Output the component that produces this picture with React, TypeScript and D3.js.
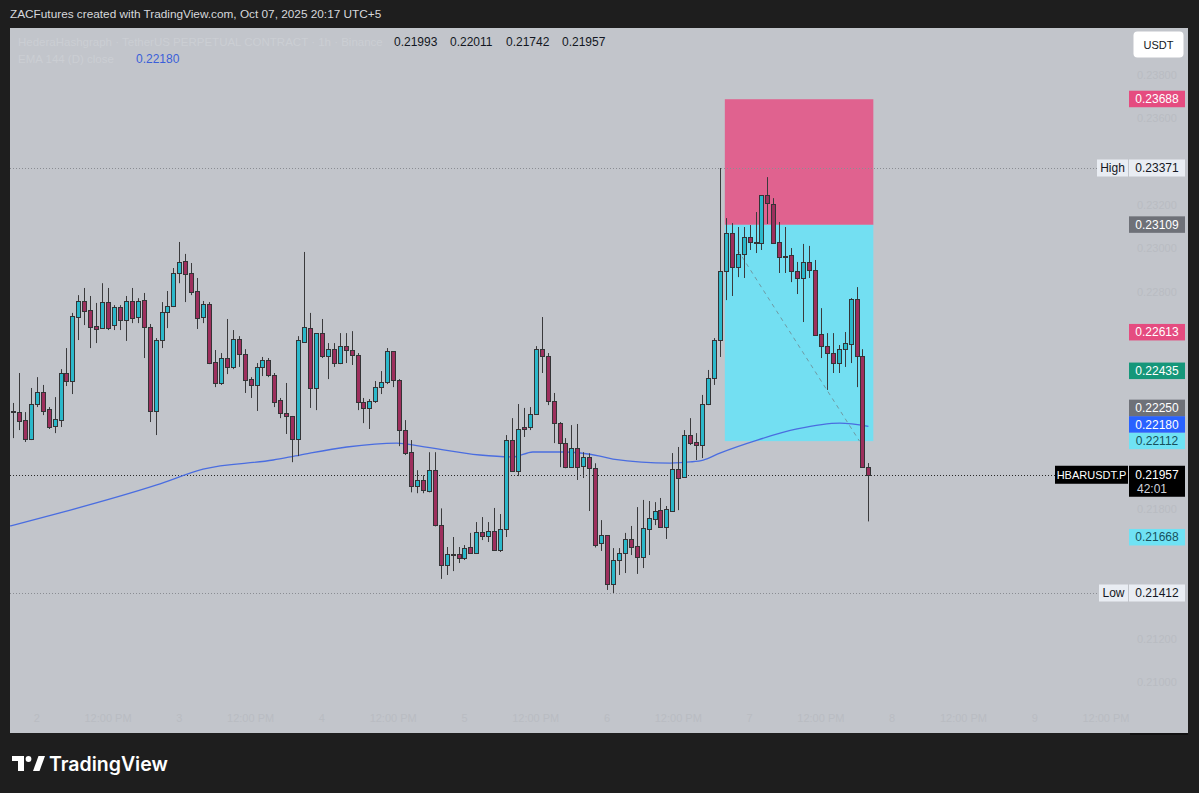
import React from "react";
import * as d3 from "d3";

// ---------- DATA ----------
const opens = [0.22251,0.22246,0.22209,0.22122,0.22283,0.22338,0.22260,0.22182,0.22209,0.22426,0.22389,0.22684,0.22758,0.22716,0.22642,0.22633,0.22753,0.22647,0.22730,0.22670,0.22758,0.22684,0.22762,0.22638,0.22251,0.22578,0.22707,0.22735,0.22887,0.22942,0.22887,0.22804,0.22684,0.22744,0.22477,0.22380,0.22495,0.22454,0.22583,0.22513,0.22398,0.22371,0.22454,0.22486,0.22417,0.22302,0.22241,0.22228,0.22122,0.22569,0.22633,0.22357,0.22610,0.22504,0.22536,0.22472,0.22550,0.22532,0.22509,0.22292,0.22265,0.22297,0.22361,0.22384,0.22527,0.22394,0.22163,0.22061,0.21904,0.21932,0.21882,0.21978,0.21724,0.21541,0.21592,0.21592,0.21573,0.21624,0.21596,0.21693,0.21675,0.21698,0.21610,0.21707,0.22117,0.21974,0.22177,0.22177,0.22237,0.22536,0.22504,0.22297,0.22195,0.22103,0.21992,0.22080,0.21996,0.22038,0.21987,0.21642,0.21679,0.21453,0.21564,0.21596,0.21661,0.21629,0.21578,0.21707,0.21753,0.21794,0.21716,0.21790,0.21983,0.21946,0.22140,0.22108,0.22094,0.22283,0.22403,0.22578,0.22896,0.23071,0.22914,0.22974,0.23053,0.23030,0.23025,0.23246,0.23205,0.23030,0.22965,0.22970,0.22896,0.22864,0.22938,0.22901,0.22606,0.22550,0.22518,0.22472,0.22536,0.22559,0.22767,0.22504,0.21993];
const highs = [0.22288,0.22426,0.22246,0.22357,0.22407,0.22371,0.22269,0.22315,0.22444,0.22541,0.22703,0.22785,0.22818,0.22781,0.22749,0.22840,0.22818,0.22739,0.22739,0.22781,0.22818,0.22771,0.22795,0.22652,0.22587,0.22753,0.22804,0.22910,0.23030,0.22975,0.22933,0.22864,0.22758,0.22753,0.22532,0.22518,0.22675,0.22624,0.22596,0.22536,0.22407,0.22472,0.22500,0.22495,0.22426,0.22311,0.22380,0.22228,0.22596,0.22984,0.22703,0.22610,0.22675,0.22564,0.22564,0.22610,0.22610,0.22619,0.22518,0.22311,0.22306,0.22389,0.22435,0.22541,0.22527,0.22398,0.22209,0.22117,0.21978,0.21955,0.22061,0.22061,0.21802,0.21624,0.21670,0.21624,0.21633,0.21689,0.21739,0.21762,0.21739,0.21804,0.21776,0.22140,0.22218,0.22283,0.22265,0.22269,0.22550,0.22684,0.22518,0.22334,0.22200,0.22126,0.22186,0.22191,0.22061,0.22056,0.22010,0.21748,0.21679,0.21619,0.21619,0.21689,0.21721,0.21808,0.21841,0.21836,0.21831,0.21850,0.21813,0.22057,0.22085,0.22163,0.22218,0.22149,0.22325,0.22440,0.22587,0.23371,0.23140,0.23117,0.23099,0.23099,0.23108,0.23168,0.23246,0.23329,0.23232,0.23122,0.23099,0.23002,0.22938,0.23021,0.23012,0.22947,0.22725,0.22610,0.22610,0.22555,0.22615,0.22771,0.22822,0.22536,0.22011];
const lows = [0.22126,0.22163,0.22108,0.22117,0.22269,0.22232,0.22168,0.22149,0.22177,0.22366,0.22329,0.22578,0.22647,0.22541,0.22564,0.22633,0.22624,0.22624,0.22624,0.22574,0.22656,0.22656,0.22495,0.22200,0.22140,0.22541,0.22633,0.22730,0.22840,0.22753,0.22785,0.22629,0.22656,0.22467,0.22361,0.22371,0.22421,0.22444,0.22454,0.22334,0.22311,0.22251,0.22412,0.22407,0.22269,0.22218,0.22145,0.22015,0.22043,0.22569,0.22265,0.22255,0.22495,0.22398,0.22454,0.22467,0.22472,0.22463,0.22255,0.22195,0.22168,0.22288,0.22329,0.22375,0.22361,0.22089,0.22048,0.21876,0.21872,0.21872,0.21876,0.21719,0.21477,0.21495,0.21513,0.21550,0.21564,0.21592,0.21596,0.21656,0.21647,0.21606,0.21601,0.21670,0.21970,0.21951,0.22131,0.22163,0.22237,0.22426,0.22278,0.22103,0.21992,0.21987,0.21992,0.21933,0.21942,0.21790,0.21622,0.21606,0.21426,0.21412,0.21495,0.21504,0.21587,0.21500,0.21527,0.21587,0.21725,0.21716,0.21661,0.21790,0.21794,0.21946,0.22094,0.22025,0.22034,0.22278,0.22371,0.22500,0.22762,0.22781,0.22868,0.22864,0.22993,0.22979,0.22993,0.23113,0.23021,0.22887,0.22887,0.22845,0.22790,0.22661,0.22864,0.22597,0.22495,0.22348,0.22426,0.22426,0.22454,0.22472,0.22361,0.21989,0.21742];
const closes = [0.22253,0.22204,0.22122,0.22283,0.22338,0.22251,0.22177,0.22214,0.22426,0.22389,0.22689,0.22758,0.22712,0.22638,0.22628,0.22753,0.22633,0.22730,0.22670,0.22758,0.22679,0.22758,0.22638,0.22251,0.22578,0.22707,0.22735,0.22887,0.22938,0.22882,0.22799,0.22679,0.22744,0.22472,0.22380,0.22495,0.22454,0.22583,0.22513,0.22394,0.22371,0.22454,0.22486,0.22417,0.22292,0.22241,0.22228,0.22122,0.22578,0.22638,0.22357,0.22610,0.22504,0.22536,0.22472,0.22550,0.22532,0.22509,0.22292,0.22265,0.22297,0.22361,0.22384,0.22527,0.22394,0.22163,0.22057,0.21904,0.21932,0.21887,0.21978,0.21724,0.21541,0.21592,0.21594,0.21573,0.21619,0.21596,0.21693,0.21675,0.21698,0.21610,0.21707,0.22117,0.21974,0.22168,0.22168,0.22237,0.22536,0.22504,0.22297,0.22195,0.22103,0.21992,0.22080,0.21992,0.22038,0.21987,0.21632,0.21679,0.21453,0.21564,0.21596,0.21661,0.21624,0.21578,0.21712,0.21758,0.21790,0.21716,0.21799,0.21983,0.21942,0.22140,0.22103,0.22094,0.22283,0.22403,0.22578,0.22896,0.23071,0.22914,0.22974,0.23053,0.23030,0.23025,0.23246,0.23209,0.23025,0.22961,0.22961,0.22896,0.22864,0.22938,0.22901,0.22601,0.22550,0.22518,0.22472,0.22536,0.22564,0.22767,0.22504,0.21993,0.21957];

// EMA 144 samples: candle index, value
const emaIdx = [-0.5, 7.9, 24.2, 32, 43.8, 48.3, 56.2, 64.6, 68.5, 78.6, 84.2, 87.5, 92.6, 98.8, 101, 110.6, 114, 116.2, 119, 125.3, 132, 139.2, 144];
const emaVal = [0.21721, 0.21781, 0.21910, 0.21983, 0.22025, 0.22048, 0.22085, 0.22103, 0.22089, 0.22048, 0.22039, 0.22062, 0.22062, 0.22043, 0.22029, 0.22011, 0.22016, 0.22025, 0.22057, 0.22117, 0.22168, 0.22195, 0.22180];

const priceTicks = [0.238, 0.236, 0.234, 0.232, 0.230, 0.228, 0.226, 0.224, 0.222, 0.220, 0.218, 0.216, 0.214, 0.212, 0.210];
const timeLabels = ["2", "12:00 PM", "3", "12:00 PM", "4", "12:00 PM", "5", "12:00 PM", "6", "12:00 PM", "7", "12:00 PM", "8", "12:00 PM", "9", "12:00 PM"];
const timeLabelIdx = [4, 16, 28, 40, 52, 64, 76, 88, 100, 112, 124, 136, 148, 160, 172, 184];

const highPrice = 0.23371;
const lowPrice = 0.21412;
const lastPrice = 0.21957;
const stopPrice = 0.23688;
const entryPrice = 0.23109;
const targetPrice = 0.22112;
const posStartIdx = 120;
const posEndIdx = 145;
const dashStart = [122, 0.22993];
const dashEnd = [142.5, 0.22112];

const ohlcLegend = ["0.21993", "0.22011", "0.21742", "0.21957"];
const symbolLegend = "HederaHashgraph · TetherUS PERPETUAL CONTRACT · 1h · Binance";
const emaLegend = "EMA 144 (D) close";
const emaLegendValue = "0.22180";

// colored price labels on the axis
const axisLabels = [
  { price: 0.23688, text: "0.23688", bg: "#e54c80", fg: "#ffffff" },
  { price: 0.23109, text: "0.23109", bg: "#6e7178", fg: "#ffffff" },
  { price: 0.22613, text: "0.22613", bg: "#e54c80", fg: "#ffffff" },
  { price: 0.22435, text: "0.22435", bg: "#15977a", fg: "#ffffff" },
  { price: 0.22250, text: "0.22250", bg: "#6e7178", fg: "#ffffff" },
  { price: 0.22180, text: "0.22180", bg: "#2962ff", fg: "#ffffff" },
  { price: 0.22112, text: "0.22112", bg: "#6fe2f4", fg: "#16505c" },
  { price: 0.21668, text: "0.21668", bg: "#6fe2f4", fg: "#16505c" },
];

const FONT = "'Liberation Sans', Arial, sans-serif";
const FAINT = "#b9bcc2";

export default function App() {
  const x = d3.scaleLinear().domain([0, 144]).range([13, 868.4]);
  const y = d3.scaleLinear().domain([lowPrice, highPrice]).range([593, 168]);

  const emaPts: [number, number][] = emaIdx.map((d, i) => [x(d), y(emaVal[i])]);
  const emaPath = d3.line().curve(d3.curveMonotoneX)(emaPts) || "";

  // de-overlap axis labels (push upward)
  const LH = 16.5;
  const placed = axisLabels.map((l) => ({ ...l, yy: y(l.price) })).sort((a, b) => b.yy - a.yy);
  for (let i = 1; i < placed.length; i++) {
    if (placed[i - 1].yy - placed[i].yy < LH) placed[i].yy = placed[i - 1].yy - LH;
  }
  const occupied: [number, number][] = [
    ...placed.map((l) => [l.yy - 9, l.yy + 9] as [number, number]),
    [y(highPrice) - 9, y(highPrice) + 9],
    [y(lowPrice) - 9, y(lowPrice) + 9],
    [y(lastPrice) - 10, y(lastPrice) + 23],
    [28, 60],
  ];
  const visibleTicks = priceTicks.filter((p) => {
    const yy = y(p);
    return !occupied.some(([a, b]) => yy + 6 > a && yy - 6 < b);
  });

  const axX = 1129;
  const axW = 56;

  return (
    <svg width={1199} height={793} style={{ position: "absolute", left: 0, top: 0 }} fontFamily={FONT}>
      <rect x={0} y={0} width={1199} height={793} fill="#1e1e1e" />
      <text x={10} y={18} fill="#d6d8dc" fontSize={11.8}>ZACFutures created with TradingView.com, Oct 07, 2025 20:17 UTC+5</text>
      <rect x={10} y={28} width={1178} height={705} fill="#c2c5cb" />

      {/* price axis faint ticks */}
      {visibleTicks.map((p) => (
        <text key={p} x={1137} y={y(p) + 4} fontSize={11} fill={FAINT}>{p.toFixed(5)}</text>
      ))}
      {/* time axis faint labels */}
      {timeLabels.map((t, i) => (
        <text key={i} x={x(timeLabelIdx[i])} y={722} fontSize={11} fill={FAINT} textAnchor="middle">{t}</text>
      ))}

      {/* legend */}
      <text x={18} y={46} fontSize={11.5} fill="#cbced3">{symbolLegend}</text>
      {ohlcLegend.map((v, i) => (
        <text key={i} x={394 + i * 56} y={46} fontSize={12} fill="#131722">{v}</text>
      ))}
      <text x={18} y={63} fontSize={11.5} fill="#cbced3">{emaLegend}</text>
      <text x={136} y={63} fontSize={12} fill="#3a5fd9">{emaLegendValue}</text>

      <g>
        {/* position tool */}
        <rect x={x(posStartIdx) - 1} y={y(stopPrice)} width={x(posEndIdx) - x(posStartIdx)} height={y(entryPrice) - y(stopPrice)} fill="#e0628f" />
        <rect x={x(posStartIdx) - 1} y={y(entryPrice)} width={x(posEndIdx) - x(posStartIdx)} height={y(targetPrice) - y(entryPrice)} fill="#73dff2" />
        <line x1={x(dashStart[0])} y1={y(dashStart[1])} x2={x(dashEnd[0])} y2={y(dashEnd[1])} stroke="#6f9aa4" strokeWidth={1} strokeDasharray="4,4" />

        {/* high/low/last lines */}
        <line x1={10} x2={1097} y1={Math.round(y(highPrice)) + 0.5} y2={Math.round(y(highPrice)) + 0.5} stroke="#8a8d93" strokeDasharray="1,2" />
        <line x1={10} x2={1097} y1={Math.round(y(lowPrice)) + 0.5} y2={Math.round(y(lowPrice)) + 0.5} stroke="#8a8d93" strokeDasharray="1,2" />
        <line x1={10} x2={1055} y1={Math.round(y(lastPrice)) + 0.5} y2={Math.round(y(lastPrice)) + 0.5} stroke="#2a2a2a" strokeDasharray="1,2" />

        {/* EMA */}
        <path d={emaPath} fill="none" stroke="#4a6de0" strokeWidth={1.3} />

        {/* candles */}
        {opens.map((o, i) => {
          const c = closes[i];
          const bull = c >= o;
          const cx = Math.round(x(i)) + 0.5;
          const top = Math.round(y(Math.max(o, c)));
          const bot = Math.round(y(Math.min(o, c)));
          const h = Math.max(1, bot - top);
          return (
            <g key={i}>
              <line x1={cx} x2={cx} y1={y(highs[i])} y2={y(lows[i])} stroke="#3a3a3c" strokeWidth={1} />
              <rect x={cx - 2} y={top + 0.5} width={4} height={h} fill={bull ? "#2bb8ca" : "#9d2f5d"} stroke="#343436" strokeWidth={1} />
            </g>
          );
        })}
      </g>

      {/* USDT box */}
      <rect x={1133.5} y={31.5} width={50} height={26} rx={4} fill="#ffffff" />
      <text x={1158.5} y={48.5} fontSize={11} fill="#131722" textAnchor="middle">USDT</text>

      {/* High / Low labels */}
      <rect x={1097} y={y(highPrice) - 8.5} width={31} height={17} fill="#e9edf3" />
      <text x={1112.5} y={y(highPrice) + 4} fontSize={12} fill="#131722" textAnchor="middle">High</text>
      <rect x={axX} y={y(highPrice) - 8.5} width={axW} height={17} fill="#e9edf3" />
      <text x={axX + axW / 2} y={y(highPrice) + 4} fontSize={12} fill="#131722" textAnchor="middle">0.23371</text>

      <rect x={1099} y={y(lowPrice) - 8.5} width={29} height={17} fill="#e9edf3" />
      <text x={1113.5} y={y(lowPrice) + 4} fontSize={12} fill="#131722" textAnchor="middle">Low</text>
      <rect x={axX} y={y(lowPrice) - 8.5} width={axW} height={17} fill="#e9edf3" />
      <text x={axX + axW / 2} y={y(lowPrice) + 4} fontSize={12} fill="#131722" textAnchor="middle">0.21412</text>

      {/* colored labels */}
      {placed.map((l) => (
        <g key={l.text}>
          <rect x={axX} y={l.yy - 8.5} width={axW} height={LH} fill={l.bg} />
          <text x={axX + axW / 2} y={l.yy + 4} fontSize={12} fill={l.fg} textAnchor="middle">{l.text}</text>
        </g>
      ))}

      {/* last price */}
      <rect x={1055} y={y(lastPrice) - 9} width={73} height={18} fill="#000000" />
      <text x={1091.5} y={y(lastPrice) + 4} fontSize={11} fill="#ffffff" textAnchor="middle">HBARUSDT.P</text>
      <rect x={axX} y={y(lastPrice) - 9} width={axW} height={31} fill="#000000" />
      <text x={axX + axW / 2} y={y(lastPrice) + 4.5} fontSize={12} fill="#ffffff" textAnchor="middle">0.21957</text>
      <text x={axX + 8} y={y(lastPrice) + 18} fontSize={12} fill="#d1d4dc">42:01</text>

      {/* bottom notch under price axis */}
      <rect x={1130} y={733} width={58} height={2} fill="#111" />

      {/* TradingView logo */}
      <g fill="#ffffff">
        <path d="M12 756 H24 V771 H18 V761 H12 Z" />
        <circle cx={28.5} cy={759} r={2.9} />
        <path d="M33 771 L38.5 756 H45 L39.5 771 Z" />
      </g>
      <text x={49} y={771} fontSize={19.5} fontWeight={600} fill="#ffffff" fontFamily="Inter, sans-serif">TradingView</text>
    </svg>
  );
}
